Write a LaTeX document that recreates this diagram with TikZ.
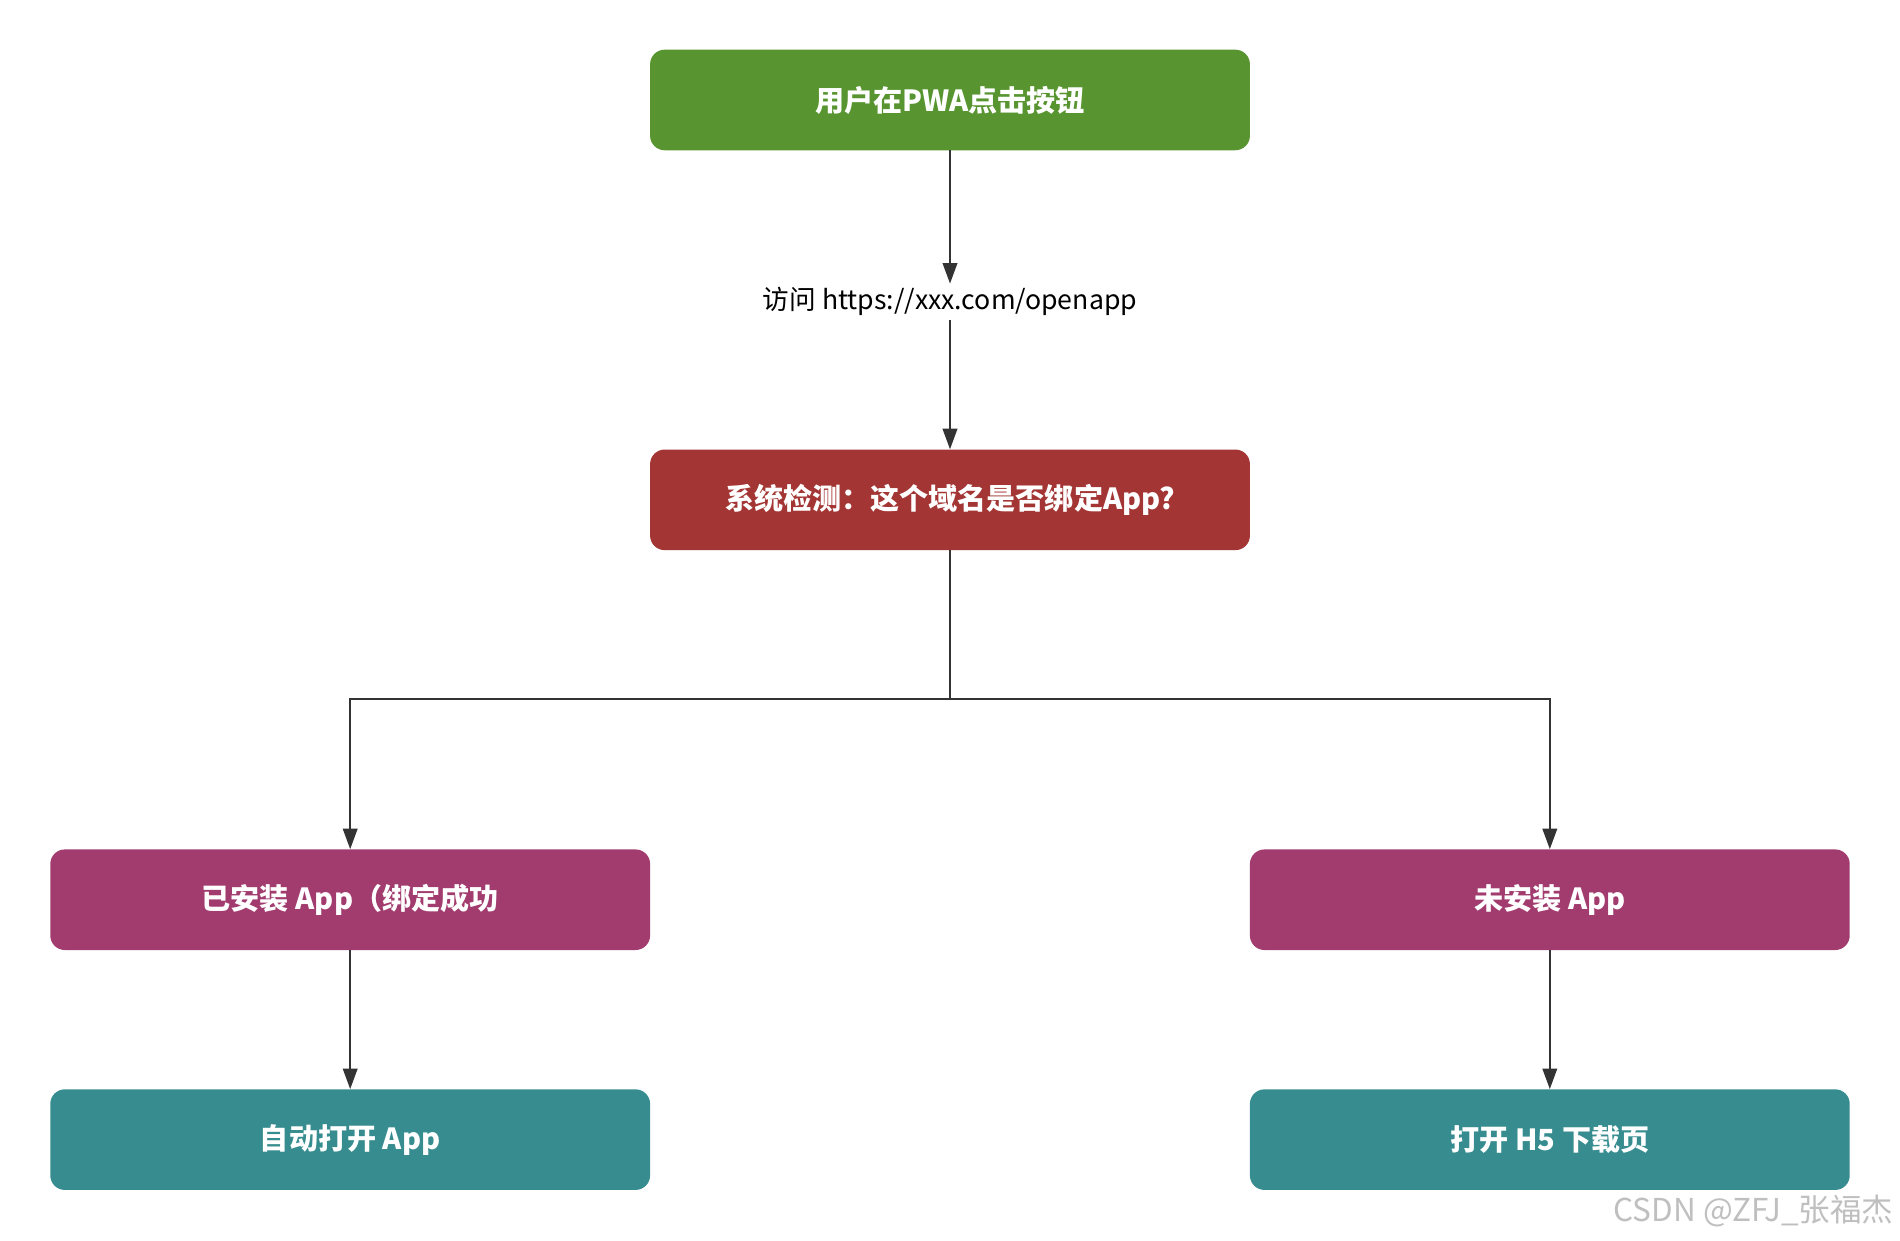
\documentclass[tikz,border=0pt]{standalone}
\usepackage{fontspec}
\setmainfont{Noto Sans CJK SC}
\usetikzlibrary{arrows.meta}
\definecolor{cg}{HTML}{589530}
\definecolor{cr}{HTML}{A33634}
\definecolor{cp}{HTML}{A23C6E}
\definecolor{ct}{HTML}{368C8E}
\tikzset{
 box/.style={rounded corners=12pt,minimum width=495pt,minimum height=83pt,text=white,font=\fontsize{24}{28}\selectfont\bfseries,inner sep=0pt},
 conn/.style={draw=black!80,line width=1.8pt,-{Triangle[length=17pt,width=12pt]}},
}
\begin{document}
\begin{tikzpicture}[x=1pt,y=-1pt]
\useasboundingbox[fill=white] (0,0) rectangle (1568,1024);
\node[box,fill=cg] (top) at (784,82.5) {用户在PWA点击按钮};
\node[box,fill=cr] (mid) at (784,412.5) {系统检测：这个域名是否绑定App?};
\node[box,fill=cp] (l) at (289,742.5) {已安装 App（绑定成功};
\node[box,fill=cp] (r) at (1279,742.5) {未安装 App};
\node[box,fill=ct] (bl) at (289,940.5) {自动打开 App};
\node[box,fill=ct] (br) at (1279,940.5) {打开 H5 下载页};
\node[fill=white,inner sep=3pt,font=\fontsize{22}{26}\selectfont] (lab) at (784,249) {访问 https://xxx.com/openapp};
\coordinate (j) at (784,577);
\draw[conn] (top) -- (lab);
\draw[conn] (lab) -- (mid);
\draw[conn] (mid) -- (j) -| (l);
\draw[conn] (j) -| (r);
\draw[conn] (l) -- (bl);
\draw[conn] (r) -- (br);
\node[text=black!25,font=\fontsize{26}{30}\selectfont,anchor=south east] (wm) at (1566,1016) {CSDN @ZFJ\_张福杰};
\end{tikzpicture}
\end{document}
